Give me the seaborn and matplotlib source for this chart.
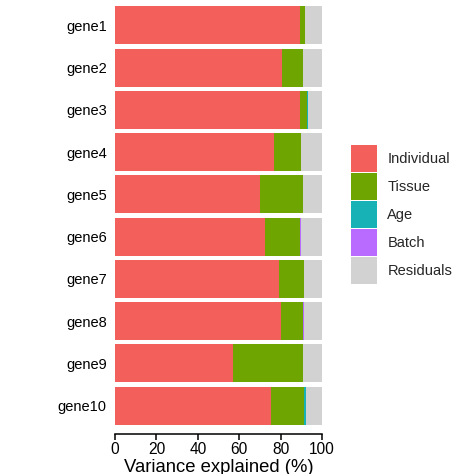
import matplotlib

matplotlib.use("Agg")

import matplotlib.pyplot as plt
import numpy as np
import pandas as pd
import seaborn as sns

genes = [f"gene{i}" for i in range(1, 11)]
individual = [89.2, 80.7, 89.2, 77.0, 70.1, 72.7, 79.4, 80.4, 57.2, 75.2]
tissue = [2.4, 10.3, 3.6, 12.7, 20.9, 16.8, 11.8, 10.6, 33.5, 16.0]
age = [0.0, 0.0, 0.2, 0.3, 0.0, 0.0, 0.0, 0.0, 0.0, 0.9]
batch = [0.0, 0.0, 0.0, 0.0, 0.0, 0.5, 0.0, 0.5, 0.0, 0.0]

components = ["Individual", "Tissue", "Age", "Batch", "Residuals"]
colors = ["#F35F5B", "#6FA501", "#17B2B6", "#B96AFF", "#D2D2D2"]

parts = np.array([individual, tissue, age, batch])
residuals = 100 - parts.sum(axis=0)
values = np.vstack([parts, residuals])
cumulative = np.cumsum(values, axis=0)

df = pd.DataFrame({"gene": genes})
for name, cum in zip(components, cumulative):
    df[name] = cum

sns.set_theme(style="white")
plt.rcParams["font.family"] = ["Liberation Sans", "DejaVu Sans"]

fig = plt.figure(figsize=(4.74, 4.74), dpi=100)
ax = fig.add_axes([115 / 474, 43 / 474, 207 / 474, 431 / 474])

# draw from the outermost cumulative total inward so each segment shows
for name, color in reversed(list(zip(components, colors))):
    sns.barplot(data=df, x=name, y="gene", color=color, width=0.9,
                saturation=1, linewidth=0, ax=ax, label=name)

ax.set_xlim(0, 100)
ax.set_ylim(9.6, -0.6)
ax.set_xticks([0, 20, 40, 60, 80, 100])
ax.set_xlabel("Variance explained (%)", fontsize=13.3, color="black", labelpad=1)
ax.set_ylabel("")
ax.tick_params(axis="x", length=4, width=1.1, color="black", labelsize=11.2,
               labelcolor="black", pad=2, bottom=True)
ax.tick_params(axis="y", length=0, labelsize=10.5, labelcolor="black", pad=6)
for side in ["left", "right", "top"]:
    ax.spines[side].set_visible(False)
ax.spines["bottom"].set_color("black")
ax.spines["bottom"].set_linewidth(1.1)
ax.spines["bottom"].set_position(("outward", 2))

handles, labels = ax.get_legend_handles_labels()
order = [labels.index(c) for c in components]
ax.legend([handles[i] for i in order], components, loc="upper left",
          bbox_to_anchor=(351 / 474, 1 - 145 / 474),
          bbox_transform=fig.transFigure, frameon=False, borderpad=0,
          borderaxespad=0, fontsize=10.5, handlelength=1.75,
          handleheight=2.5, labelspacing=0.05, handletextpad=0.75)

fig.savefig("out.png", dpi=100)
